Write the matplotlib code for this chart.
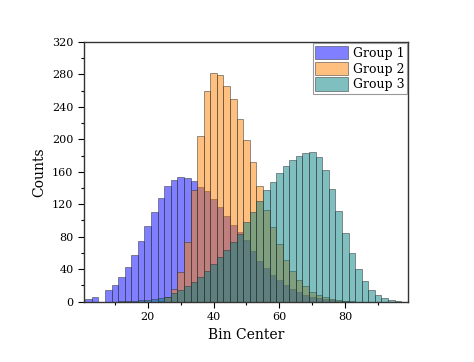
import matplotlib.pyplot as plt
from matplotlib.ticker import MultipleLocator
import numpy as np

# bin centers (width 2)
centers = np.arange(2, 100, 2)

group1 = [3, 5, 0, 14, 21, 30, 43, 58, 75, 93, 111, 128, 142, 150, 153, 152, 149,
          141, 136, 126, 116, 105, 94, 86, 76, 62, 50, 41, 33, 27, 21, 16, 12, 8,
          6, 4, 3, 2, 1, 1, 0, 0, 0, 0, 0, 0, 0, 0, 0]
group2 = [0, 0, 0, 0, 0, 0, 0, 0, 0, 0, 0, 1, 5, 15, 37, 74, 137, 204, 260, 282,
          279, 266, 250, 225, 199, 172, 143, 113, 92, 71, 51, 38, 27, 19, 12, 8,
          5, 3, 2, 1, 1, 0, 0, 0, 0, 0, 0, 0, 0]
group3 = [0, 0, 0, 0, 0, 1, 1, 1, 2, 2, 3, 4, 6, 10, 14, 19, 24, 30, 38, 46, 55,
          64, 73, 83, 98, 111, 124, 137, 147, 158, 167, 174, 180, 183, 184, 178,
          162, 139, 112, 84, 60, 40, 25, 14, 8, 4, 2, 1, 0]

labels = ['Group 1', 'Group 2', 'Group 3']
colors = [(0, 0, 1, 0.5), (1, 0.5, 0, 0.5), (0, 0.5, 0.5, 0.5)]

plt.rcParams['font.family'] = 'DejaVu Serif'

fig = plt.figure(figsize=(4.74, 3.62), dpi=100)
ax = fig.add_axes([0.177, 0.167, 0.684, 0.717])

for vals, lab, col in zip([group1, group2, group3], labels, colors):
    ax.bar(centers, vals, width=2, color=col, edgecolor=(0.2, 0.2, 0.2, 0.6),
           linewidth=0.6, label=lab)

ax.set_xlim(0.6, 99.1)
ax.set_ylim(0, 320)
ax.xaxis.set_major_locator(MultipleLocator(20))
ax.xaxis.set_minor_locator(MultipleLocator(10))
ax.yaxis.set_major_locator(MultipleLocator(40))
ax.yaxis.set_minor_locator(MultipleLocator(20))
ax.tick_params(which='both', direction='out', labelsize=8, width=0.8)
ax.tick_params(which='major', length=4)
ax.tick_params(which='minor', length=2.5)
for s in ax.spines.values():
    s.set_linewidth(1.0)
    s.set_color('#333333')

ax.set_xlabel('Bin Center', fontsize=10)
ax.set_ylabel('Counts', fontsize=10)

leg = ax.legend(loc='upper right', fontsize=9, fancybox=False, framealpha=1,
                edgecolor='#999999', borderaxespad=0.1, handlelength=2.6,
                handleheight=1.3, handletextpad=0.4, borderpad=0.2,
                labelspacing=0.15)
leg.get_frame().set_linewidth(0.8)

fig.savefig('out.png', dpi=100)
